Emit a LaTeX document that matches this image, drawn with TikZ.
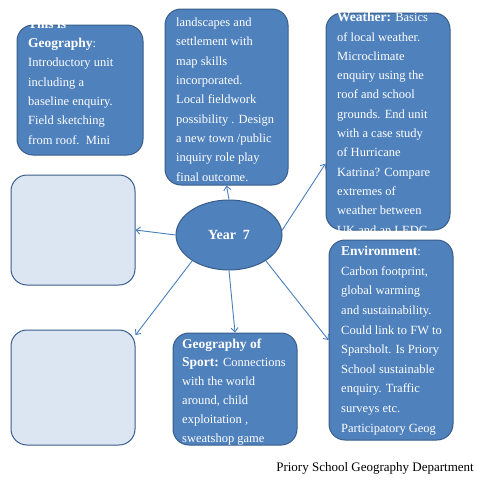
\documentclass[tikz,border=0pt]{standalone}
\usepackage{fontspec}
\setmainfont{Liberation Serif}
\usetikzlibrary{positioning,shapes,arrows.meta,calc}
\definecolor{topicblue}{HTML}{4F81BD}
\definecolor{edgeblue}{HTML}{385D8A}
\definecolor{paleblue}{HTML}{DCE6F2}
\definecolor{linkblue}{HTML}{4A7EBB}
\newcommand{\hd}[1]{{\bfseries\fontsize{13.5}{19.3}\selectfont #1}}

\begin{document}
\begin{tikzpicture}[x=1pt,y=-1pt,
    topic/.style={draw=edgeblue,fill=topicblue,line width=1pt,rounded corners=16pt,inner sep=0pt},
    blank/.style={draw=edgeblue,fill=paleblue,line width=1pt,rounded corners=16pt,inner sep=0pt},
    topictext/.style={anchor=base west,inner sep=0pt,text=white,align=left,font=\fontsize{12.5}{19.3}\selectfont},
    link/.style={draw=linkblue,line width=0.9pt,-{Straight Barb[length=4pt,width=7pt]}}]
\useasboundingbox (0,0) rectangle (480,480);

% the topic boxes
\node[topic,minimum width=126,minimum height=130] (intro) at (80,90) {};
\node[topic,minimum width=123,minimum height=176] (settle) at (226.5,97) {};
\node[topic,minimum width=124,minimum height=217] (weather) at (388,121.5) {};
\node[topic,minimum width=124,minimum height=200] (env) at (391,340) {};
\node[topic,minimum width=124,minimum height=112] (sport) at (235,389) {};
\node[blank,minimum width=124,minimum height=110] (blank1) at (73,230) {};
\node[blank,minimum width=124,minimum height=115] (blank2) at (73,387.5) {};

% centre
\node[ellipse,draw=edgeblue,fill=topicblue,line width=1pt,minimum width=106,minimum height=70,
    text=white,font=\bfseries\fontsize{14}{16}\selectfont] (yr7) at (229,235) {Year\ \ 7};

% texts (placed at the baseline of their last line)
\node[topictext] (intro text) at (28,144) {\hd{This is}\\ \hd{Geography}:\\ Introductory unit\\ including a\\
    baseline enquiry.\\ Field sketching\\ from roof.\ \ Mini};
\node[topictext] (settle text) at (176,181) {landscapes and\\ settlement with\\ map skills\\ incorporated.\\
    Local fieldwork\\ possibility . Design\\ a new town /public\\ inquiry role play\\ final outcome.};
\node[topictext] (weather text) at (337,234) {\hd{Weather:} Basics\\ of local weather.\\ Microclimate\\
    enquiry using the\\ roof and school\\ grounds. End unit\\ with a case study\\ of Hurricane\\
    Katrina? Compare\\ extremes of\\ weather between\\ UK and an LEDC};
\node[topictext,font=\fontsize{12.5}{19.6}\selectfont] (env text) at (341,432) {\hd{Environment}:\\ Carbon footprint,\\ global warming\\
    and sustainability.\\ Could link to FW to\\ Sparsholt. Is Priory\\ School sustainable\\
    enquiry. Traffic\\ surveys etc.\\ Participatory Geog};
\node[topictext,font=\fontsize{12.5}{18.8}\selectfont] (sport text) at (182,442) {\hd{Geography of}\\ \hd{Sport:} Connections\\ with the world\\
    around, child\\ exploitation ,\\ sweatshop game};

% links
\draw[link] (yr7.north) -- (settle.south);
\draw[link] (yr7.5) -- (weather.214);
\draw[link] (yr7.west) -- (blank1.east);
\draw[link] (yr7.215) -- (blank2.40);
\draw[link] (yr7.south) -- (sport.north);
\draw[link] (yr7.-35) -- (env.west);

\node[anchor=base east,inner sep=0pt,font=\fontsize{13}{15}\selectfont] (footer) at (474,471)
    {Priory School Geography Department};
\end{tikzpicture}
\end{document}
